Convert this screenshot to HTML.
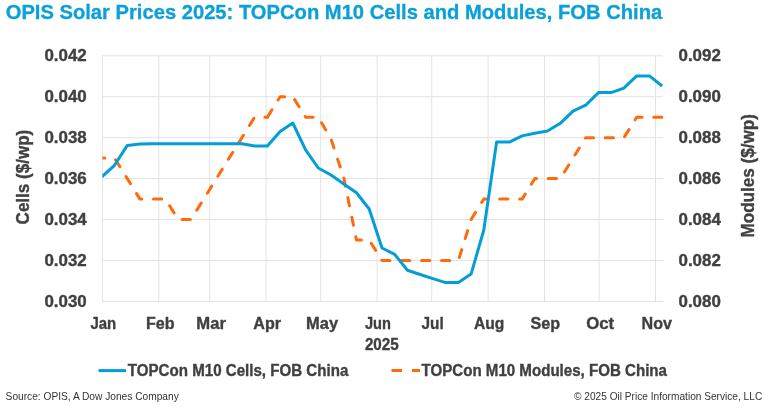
<!DOCTYPE html>
<html><head><meta charset="utf-8"><style>
html,body{margin:0;padding:0;background:#fff;}
svg{display:block;will-change:transform;}
text{font-family:"Liberation Sans",sans-serif;}
.b{stroke:#404040;stroke-width:0.35;}
</style></head><body>
<svg width="768" height="408" viewBox="0 0 768 408">
<defs><clipPath id="pc"><rect x="102.4" y="0" width="561" height="408"/></clipPath></defs>
<rect width="768" height="408" fill="#fff"/>
<text x="5.7" y="19.3" font-size="20.4" textLength="656.5" lengthAdjust="spacingAndGlyphs" font-weight="bold" fill="#0BA0D8" stroke="#0BA0D8" stroke-width="0.3">OPIS Solar Prices 2025: TOPCon M10 Cells and Modules, FOB China</text>
<g stroke="#E3E3E3" stroke-width="1" fill="none"><line x1="102.4" y1="55.8" x2="663.1" y2="55.8"/><line x1="102.4" y1="96.7" x2="663.1" y2="96.7"/><line x1="102.4" y1="137.7" x2="663.1" y2="137.7"/><line x1="102.4" y1="178.6" x2="663.1" y2="178.6"/><line x1="102.4" y1="219.5" x2="663.1" y2="219.5"/><line x1="102.4" y1="260.5" x2="663.1" y2="260.5"/><line x1="102.4" y1="301.4" x2="663.1" y2="301.4"/><line x1="102.4" y1="55.8" x2="102.4" y2="301.4"/><line x1="158.8" y1="55.8" x2="158.8" y2="301.4"/><line x1="209.7" y1="55.8" x2="209.7" y2="301.4"/><line x1="266.1" y1="55.8" x2="266.1" y2="301.4"/><line x1="320.7" y1="55.8" x2="320.7" y2="301.4"/><line x1="377.1" y1="55.8" x2="377.1" y2="301.4"/><line x1="431.7" y1="55.8" x2="431.7" y2="301.4"/><line x1="488.1" y1="55.8" x2="488.1" y2="301.4"/><line x1="544.5" y1="55.8" x2="544.5" y2="301.4"/><line x1="599.1" y1="55.8" x2="599.1" y2="301.4"/><line x1="655.5" y1="55.8" x2="655.5" y2="301.4"/></g>
<g font-size="16" letter-spacing="0" font-weight="bold" fill="#404040" class="b" text-anchor="end"><text x="86.7" y="61.0" textLength="42.3" lengthAdjust="spacingAndGlyphs">0.042</text><text x="86.7" y="101.9" textLength="42.3" lengthAdjust="spacingAndGlyphs">0.040</text><text x="86.7" y="142.9" textLength="42.3" lengthAdjust="spacingAndGlyphs">0.038</text><text x="86.7" y="183.8" textLength="42.3" lengthAdjust="spacingAndGlyphs">0.036</text><text x="86.7" y="224.7" textLength="42.3" lengthAdjust="spacingAndGlyphs">0.034</text><text x="86.7" y="265.7" textLength="42.3" lengthAdjust="spacingAndGlyphs">0.032</text><text x="86.7" y="306.6" textLength="42.3" lengthAdjust="spacingAndGlyphs">0.030</text></g>
<g font-size="16" letter-spacing="0" font-weight="bold" fill="#404040" class="b"><text x="678.5" y="61.0" textLength="42.3" lengthAdjust="spacingAndGlyphs">0.092</text><text x="678.5" y="101.9" textLength="42.3" lengthAdjust="spacingAndGlyphs">0.090</text><text x="678.5" y="142.9" textLength="42.3" lengthAdjust="spacingAndGlyphs">0.088</text><text x="678.5" y="183.8" textLength="42.3" lengthAdjust="spacingAndGlyphs">0.086</text><text x="678.5" y="224.7" textLength="42.3" lengthAdjust="spacingAndGlyphs">0.084</text><text x="678.5" y="265.7" textLength="42.3" lengthAdjust="spacingAndGlyphs">0.082</text><text x="678.5" y="306.6" textLength="42.3" lengthAdjust="spacingAndGlyphs">0.080</text></g>
<g transform="scale(1 1)" font-size="16" font-weight="bold" fill="#404040" class="b" text-anchor="middle"><text x="103.30" y="329.2" textLength="25.8" lengthAdjust="spacingAndGlyphs">Jan</text><text x="160.25" y="329.2" textLength="28.5" lengthAdjust="spacingAndGlyphs">Feb</text><text x="211.10" y="329.2" textLength="29.6" lengthAdjust="spacingAndGlyphs">Mar</text><text x="267.15" y="329.2" textLength="27.7" lengthAdjust="spacingAndGlyphs">Apr</text><text x="322.10" y="329.2" textLength="32.0" lengthAdjust="spacingAndGlyphs">May</text><text x="377.90" y="329.2" textLength="26.0" lengthAdjust="spacingAndGlyphs">Jun</text><text x="432.60" y="329.2" textLength="22.2" lengthAdjust="spacingAndGlyphs">Jul</text><text x="489.10" y="329.2" textLength="30.3" lengthAdjust="spacingAndGlyphs">Aug</text><text x="545.40" y="329.2" textLength="29.6" lengthAdjust="spacingAndGlyphs">Sep</text><text x="600.20" y="329.2" textLength="28.0" lengthAdjust="spacingAndGlyphs">Oct</text><text x="656.80" y="329.2" textLength="30.4" lengthAdjust="spacingAndGlyphs">Nov</text><text x="381.8" y="350" textLength="33.8" lengthAdjust="spacingAndGlyphs">2025</text></g>
<text transform="translate(29.2 177.1) rotate(-90)" font-size="17.6" textLength="94.6" lengthAdjust="spacingAndGlyphs" font-weight="bold" fill="#404040" class="b" text-anchor="middle">Cells ($/wp)</text>
<text transform="translate(754.0 175.8) rotate(-90)" font-size="17.6" textLength="123.4" lengthAdjust="spacingAndGlyphs" font-weight="bold" fill="#404040" class="b" text-anchor="middle">Modules ($/wp)</text>
<g clip-path="url(#pc)"><g fill="none" stroke="#FF6A0E" stroke-width="3" stroke-dasharray="8.3 11.65" stroke-linecap="round" stroke-linejoin="round"><path d="M101.8 158.1 L114.5 158.1 L127.3 178.6 L140.0 199.1 L152.7 199.1 L165.5 199.1 L178.2 219.5 L190.9 219.5 L203.7 199.1 L216.4 178.6 L229.1 158.1 L241.9 137.7 L254.6 117.2 L267.4 117.2" stroke-dashoffset="5.35"/><path d="M267.4 117.2 L280.1 96.7 L292.8 96.7 L305.6 117.2 L318.3 117.2 L331.0 139.0 L343.8 178.0 L356.5 240.0 L369.2 240.0 L382.0 260.5 L394.7 260.5 L407.4 260.5 L420.2 260.5 L432.9 260.5 L445.6 260.5 L458.4 260.5 L471.1 219.5 L483.8 199.1 L496.6 199.1 L509.3 199.1 L522.1 199.1 L534.8 178.6 L547.5 178.6 L560.3 178.6 L573.0 158.1 L585.7 137.7 L598.5 137.7 L611.2 137.7 L623.9 137.7 L636.7 117.2 L649.4 117.2 L662.1 117.2" stroke-dashoffset="19.57"/></g>
<path d="M101.8 176.8 L114.5 165.3 L127.3 145.4 L140.0 144.0 L152.7 143.7 L165.5 143.7 L178.2 143.7 L190.9 143.7 L203.7 143.7 L216.4 143.7 L229.1 143.7 L241.9 143.7 L254.6 146.0 L267.4 146.0 L280.1 131.4 L292.8 123.0 L305.6 149.8 L318.3 168.0 L331.0 175.0 L343.8 183.9 L356.5 192.8 L369.2 209.0 L382.0 248.0 L394.7 254.4 L407.4 270.3 L420.2 274.5 L432.9 278.6 L445.6 282.6 L458.4 282.6 L471.1 274.1 L483.8 230.0 L496.6 142.1 L509.3 142.1 L522.1 135.9 L534.8 133.2 L547.5 131.0 L560.3 123.3 L573.0 111.2 L585.7 105.2 L598.5 92.6 L611.2 92.6 L623.9 88.2 L636.7 75.9 L649.4 75.9 L662.1 86.0" fill="none" stroke="#049ED6" stroke-width="3" stroke-linejoin="round"/></g>
<line x1="98.5" y1="370.6" x2="126" y2="370.6" stroke="#049ED6" stroke-width="3"/>
<text x="127.8" y="375.5" font-size="15.8" textLength="220.5" lengthAdjust="spacingAndGlyphs" font-weight="bold" fill="#404040" class="b">TOPCon M10 Cells, FOB China</text>
<line x1="391.5" y1="370.6" x2="420" y2="370.6" stroke="#FF6A0E" stroke-width="3" stroke-dasharray="10.5 10"/>
<text x="421.5" y="375.5" font-size="15.8" textLength="245.5" lengthAdjust="spacingAndGlyphs" font-weight="bold" fill="#404040" class="b">TOPCon M10 Modules, FOB China</text>
<text x="5.6" y="399.6" font-size="10.2" textLength="173.2" lengthAdjust="spacingAndGlyphs" fill="#333">Source: OPIS, A Dow Jones Company</text>
<text x="574" y="399.8" font-size="10.2" textLength="188.2" lengthAdjust="spacingAndGlyphs" fill="#333">© 2025 Oil Price Information Service, LLC</text>
</svg>
</body></html>
